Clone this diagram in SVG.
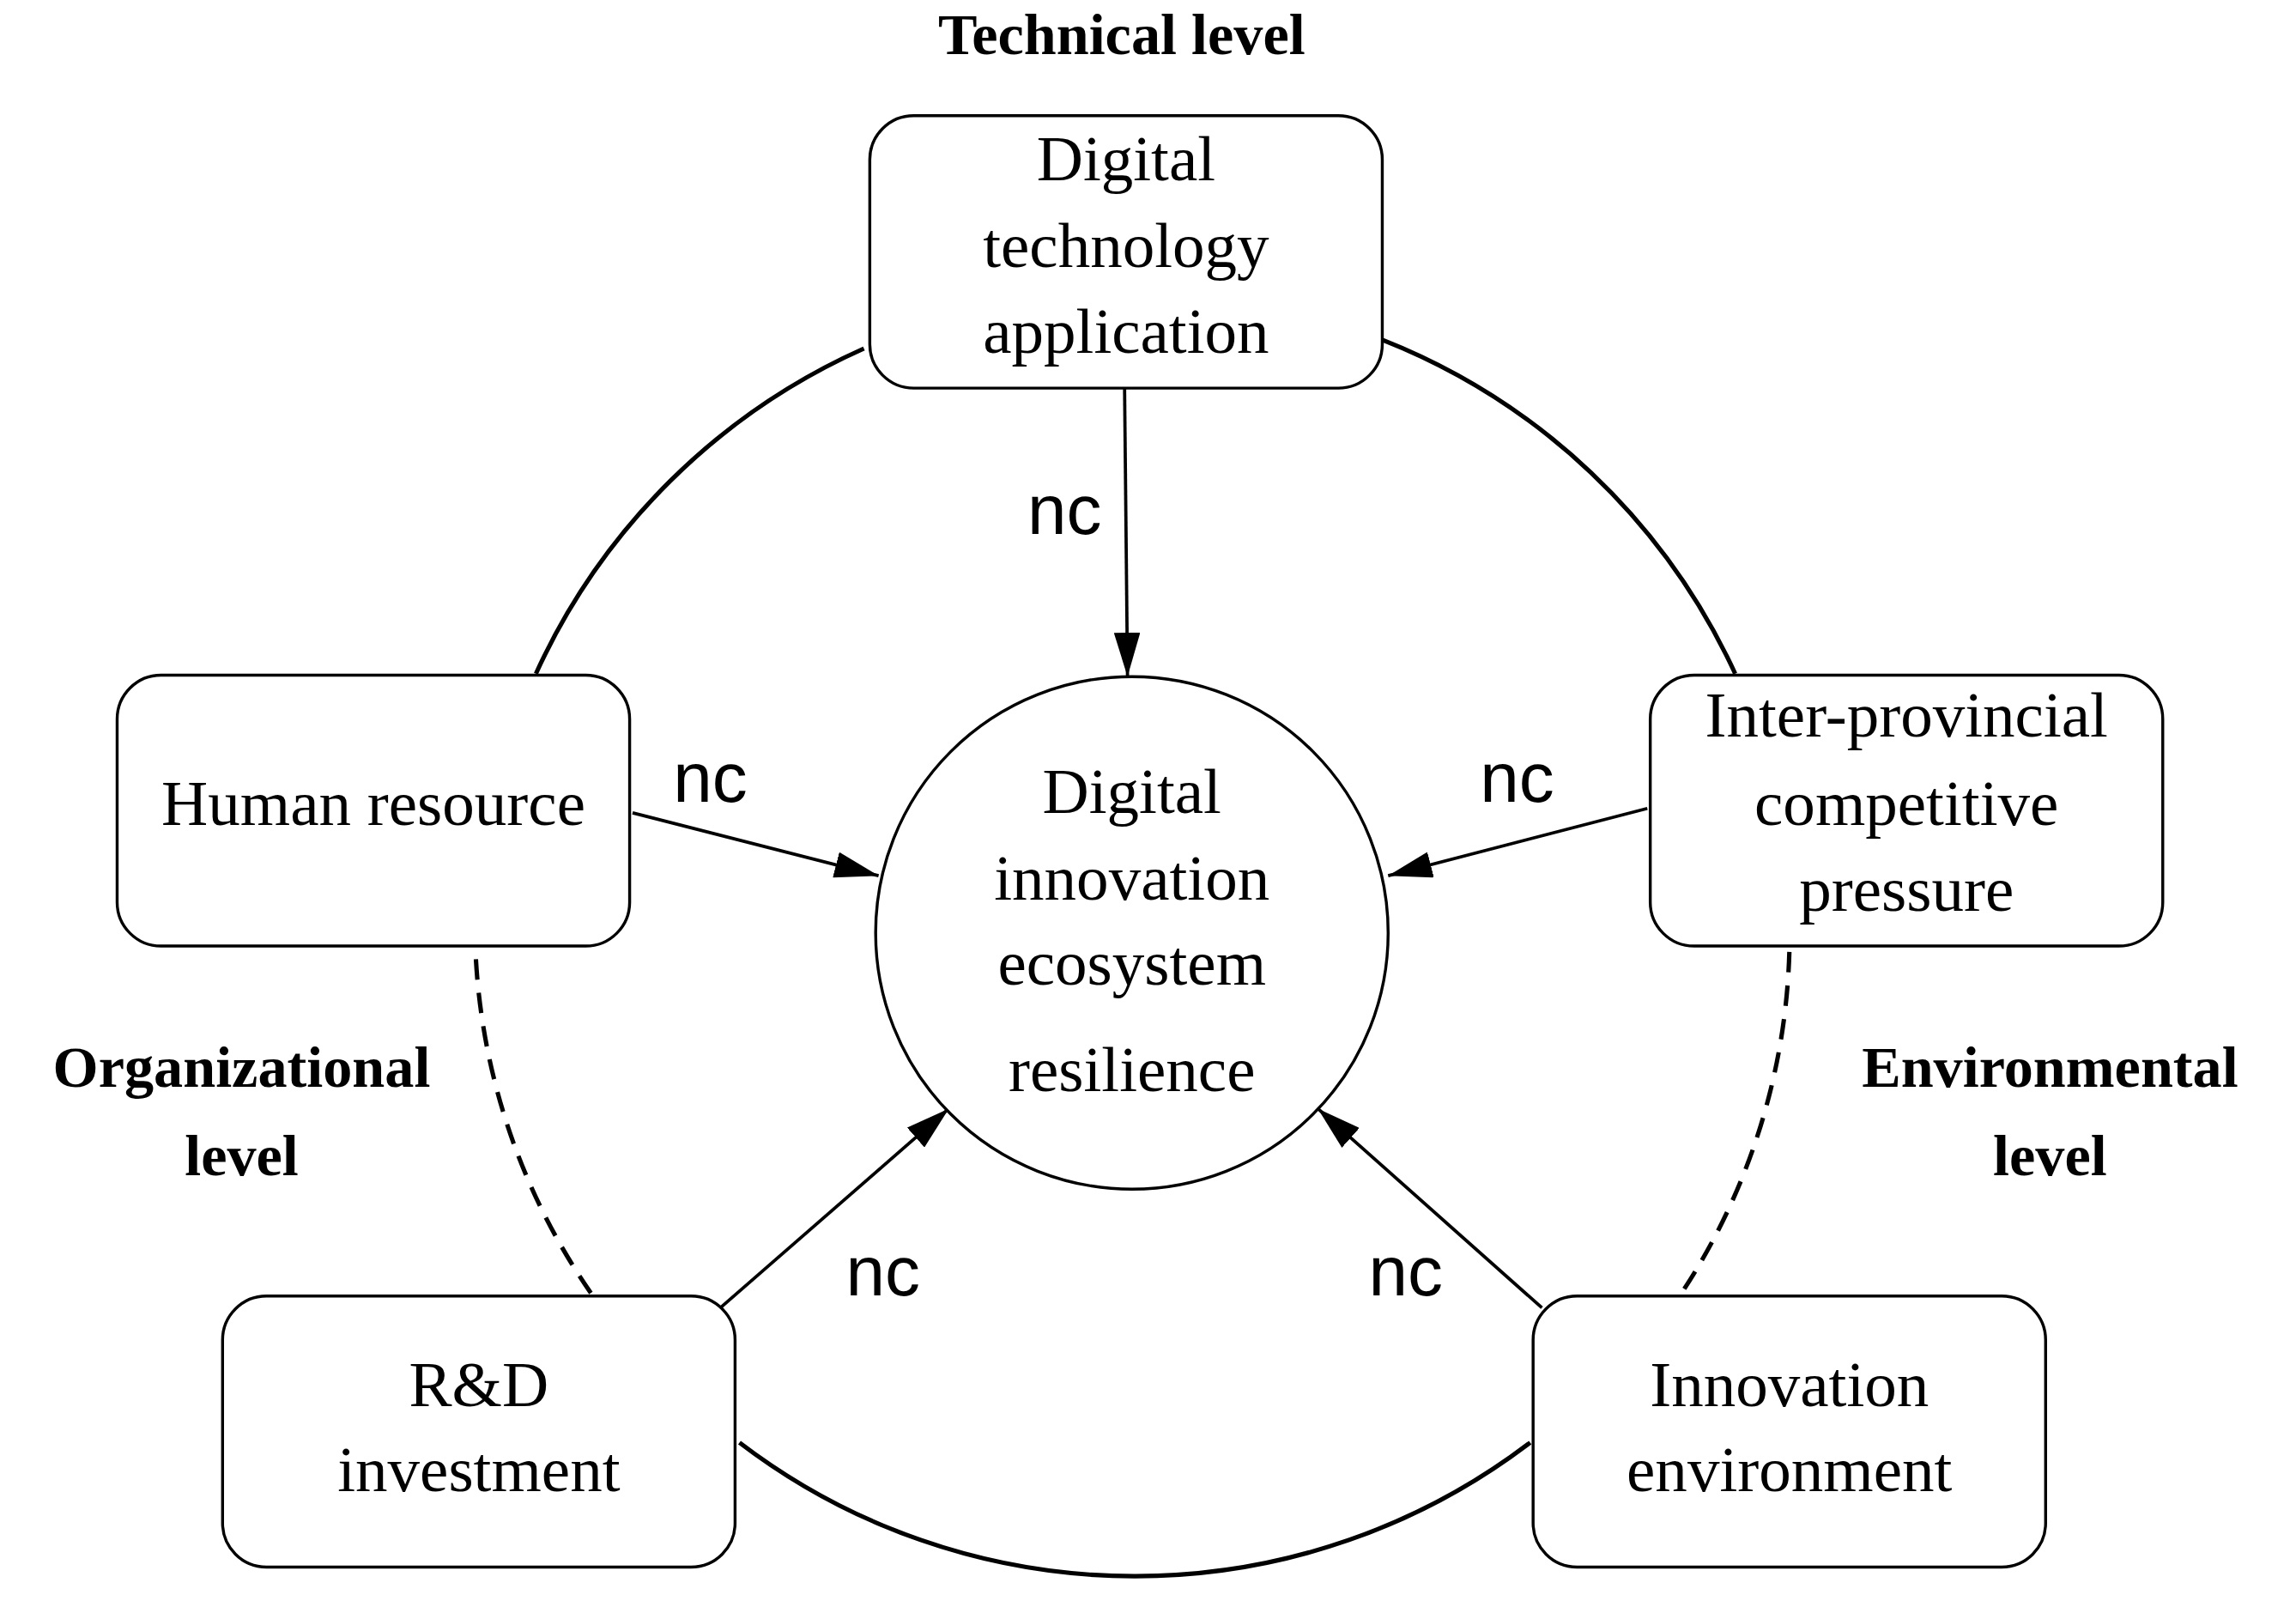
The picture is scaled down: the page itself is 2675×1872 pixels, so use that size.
<svg xmlns="http://www.w3.org/2000/svg" width="2675" height="1872" viewBox="0 0 2675 1872">
<defs>
<marker id="ah" viewBox="0 0 10 10" refX="10" refY="5" markerWidth="10" markerHeight="10" markerUnits="userSpaceOnUse" orient="auto"><path d="M0,0 L10,5 L0,10 z" fill="#000"/></marker>
<marker id="a" viewBox="0 0 10 10" refX="10" refY="5" markerWidth="30" markerHeight="18" markerUnits="userSpaceOnUse" orient="auto" preserveAspectRatio="none"><path d="M0,0 L10,5 L0,10 z" fill="#000"/></marker>
<style>
.box{fill:#fff;stroke:#000;stroke-width:2}
.t{font-family:"Liberation Serif",serif;font-size:44px;text-anchor:middle;dominant-baseline:middle}
.b{font-family:"Liberation Serif",serif;font-size:40px;font-weight:bold;text-anchor:middle;dominant-baseline:middle}
.nc{font-family:"Liberation Sans",sans-serif;font-size:48px;text-anchor:middle;dominant-baseline:middle}
.arc{fill:none;stroke:#000;stroke-width:3}
.ar{stroke:#000;stroke-width:2.2;marker-end:url(#a)}
</style>
</defs>
<rect width="2675" height="1872" fill="#fff"/>
<g transform="scale(1.706)">
<g id="connectors">
<path class="arc" d="M590,238 A445,445 0 0 0 366,460"/>
<path class="arc" d="M944,232 A445,445 0 0 1 1185,460"/>
<path class="arc" d="M505,985 A445,445 0 0 0 1045,985"/>
<path class="arc" stroke-dasharray="14,9" stroke-width="2" d="M325,655 A445,445 0 0 0 405,885"/>
<path class="arc" stroke-dasharray="14,9" stroke-width="2" d="M1222,650 A445,445 0 0 1 1147,885"/>
<line class="ar" x1="768" y1="265" x2="770" y2="462"/>
<line class="ar" x1="432" y1="555" x2="600" y2="598"/>
<line class="ar" x1="1125" y1="552" x2="948" y2="598"/>
<line class="ar" x1="492" y1="893" x2="648" y2="757"/>
<line class="ar" x1="1053" y1="893" x2="900" y2="757"/>
<text class="nc" x="727" y="352">nc</text>
<text class="nc" x="485" y="535">nc</text>
<text class="nc" x="1036" y="535">nc</text>
<text class="nc" x="603" y="872">nc</text>
<text class="nc" x="960" y="872">nc</text>
</g>
<g id="center"><circle class="box" cx="773" cy="637" r="175"/>
<text class="t" x="773" y="545">Digital</text><text class="t" x="773" y="604">innovation</text><text class="t" x="773" y="662">ecosystem</text><text class="t" x="773" y="735">resilience</text></g>
<g id="tech"><rect class="box" x="594" y="79" width="350" height="186" rx="30"/>
<text class="t" x="769" y="113">Digital</text><text class="t" x="769" y="172">technology</text><text class="t" x="769" y="231">application</text></g>
<g id="human"><rect class="box" x="80" y="461" width="350" height="185" rx="30"/>
<text class="t" x="255" y="553">Human resource</text></g>
<g id="inter"><rect class="box" x="1127" y="461" width="350" height="185" rx="30"/>
<text class="t" x="1302" y="493">Inter-provincial</text><text class="t" x="1302" y="553">competitive</text><text class="t" x="1302" y="612">pressure</text></g>
<g id="rd"><rect class="box" x="152" y="885" width="350" height="185" rx="30"/>
<text class="t" x="327" y="950">R&amp;D</text><text class="t" x="327" y="1008">investment</text></g>
<g id="innov"><rect class="box" x="1047" y="885" width="350" height="185" rx="30"/>
<text class="t" x="1222" y="950">Innovation</text><text class="t" x="1222" y="1008">environment</text></g>
<g id="labels">
<text class="b" x="766" y="28">Technical level</text>
<text class="b" x="165" y="733">Organizational</text><text class="b" x="165" y="793">level</text>
<text class="b" x="1400" y="733">Environmental</text><text class="b" x="1400" y="793">level</text>
</g>
</g>
</svg>
